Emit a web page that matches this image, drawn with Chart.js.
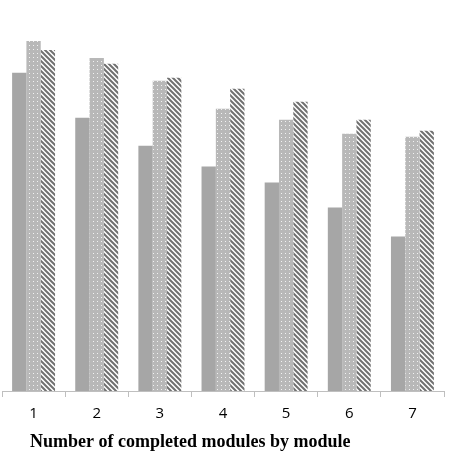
<!DOCTYPE html>
<html>
<head>
<meta charset="utf-8">
<script src="https://cdn.jsdelivr.net/npm/chart.js@4/dist/chart.umd.min.js"></script>
<style>
  html, body { margin: 0; padding: 0; background: #fff; }
  #wrap { width: 474px; height: 474px; }
</style>
</head>
<body>
<div id="wrap"><canvas id="bar_chart" width="474" height="474"></canvas></div>
<script>
var modules = ["1", "2", "3", "4", "5", "6", "7"];
var seriesSolid = [319, 274, 246, 225, 209, 184, 155];
var seriesDots = [351, 334, 311, 283, 272, 258, 255];
var seriesStripes = [342, 328, 314, 303, 290, 272, 261];
var xTitle = "Number of completed modules by module";

function dotPattern() {
    var c = document.createElement('canvas');
    c.width = 4; c.height = 4;
    var g = c.getContext('2d');
    g.fillStyle = '#b8b8b8';
    g.fillRect(0, 0, 4, 4);
    g.fillStyle = '#f2f2f2';
    g.fillRect(1, 1, 1, 1);
    return g.createPattern(c, 'repeat');
}

function stripePattern() {
    var n = 5;
    var c = document.createElement('canvas');
    c.width = n; c.height = n;
    var g = c.getContext('2d');
    g.fillStyle = '#ffffff';
    g.fillRect(0, 0, n, n);
    g.strokeStyle = '#707070';
    g.lineWidth = 2;
    g.beginPath();
    g.moveTo(-1, -1); g.lineTo(n + 1, n + 1);
    g.moveTo(-1, n - 1); g.lineTo(1, n + 1);
    g.moveTo(n - 1, -1); g.lineTo(n + 1, 1);
    g.stroke();
    return g.createPattern(c, 'repeat');
}

var titlePlugin = {
    id: 'leftTitle',
    afterDraw: function(chart) {
        var ctx = chart.ctx;
        ctx.save();
        ctx.font = 'bold 18px "Liberation Serif", serif';
        ctx.fillStyle = '#000';
        ctx.textBaseline = 'middle';
        ctx.fillText(xTitle, chart.chartArea.left + 28, 442);
        ctx.restore();
    }
};

var config = {
    type: 'bar',
    data: {
        labels: modules,
        datasets: [{
            data: seriesSolid,
            backgroundColor: '#a6a6a6'
        }, {
            data: seriesDots,
            backgroundColor: dotPattern()
        }, {
            data: seriesStripes,
            backgroundColor: stripePattern()
        }]
    },
    options: {
        responsive: false,
        animation: false,
        categoryPercentage: 0.68,
        barPercentage: 1,
        layout: { padding: { left: 2, right: 30, top: 12, bottom: 43 } },
        plugins: { legend: false, tooltip: { enabled: false } },
        scales: {
            y: { display: false, min: 0, max: 380 },
            x: {
                border: { color: '#bfbfbf', width: 1 },
                grid: { offset: true, drawOnChartArea: false, color: '#bfbfbf', tickLength: 6 },
                ticks: { color: '#000', padding: 8, font: { family: '"Open Sans", sans-serif', size: 15 } }
            }
        }
    },
    plugins: [titlePlugin]
};

new Chart(document.getElementById("bar_chart").getContext("2d"), config);
</script>
</body>
</html>
